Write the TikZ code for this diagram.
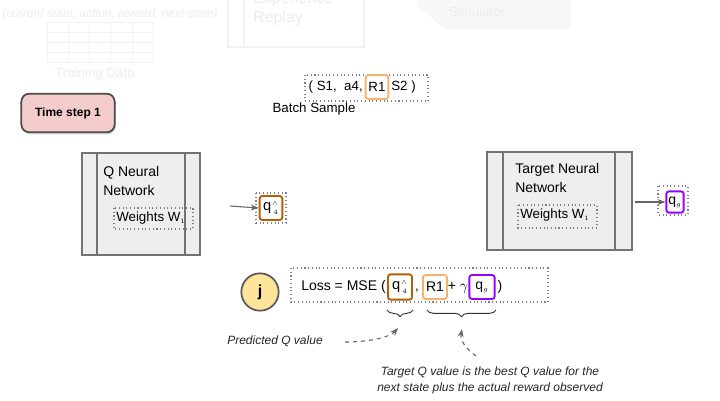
\documentclass[tikz,border=0pt]{standalone}
\usepackage{fontspec}
\setmainfont{Liberation Sans}
\usetikzlibrary{decorations.pathreplacing,shadows,arrows.meta}
\definecolor{faded}{HTML}{F2F2F2}
\definecolor{fadedtxt}{HTML}{ECECEC}
\definecolor{pinkf}{HTML}{F4CCCC}
\definecolor{boxf}{HTML}{EEEEEE}
\definecolor{brownc}{HTML}{B45F06}
\definecolor{orangec}{HTML}{F6B26B}
\definecolor{purplec}{HTML}{9900FF}
\definecolor{yellowf}{HTML}{FFE599}
\tikzset{
  nn/.style={draw=gray!90!black,fill=boxf,line width=0.8pt},
  dotbox/.style={draw=gray,dotted,line width=0.8pt},
  valbox/.style={rounded corners=2pt,line width=1.4pt},
  txt/.style={font=\fontsize{10}{12}\selectfont,inner sep=0pt},
  itl/.style={font=\fontsize{9}{11}\selectfont\itshape,inner sep=0pt,text=black!85},
  conn/.style={draw=gray!80!black,line width=0.8pt,-{Stealth[length=6pt]}},
  dconn/.style={draw=gray!80!black,dashed,line width=0.8pt,-{Stealth[length=6pt]}}
}
\newcommand{\qhat}{q\kern0.5pt$^{\scriptscriptstyle\wedge}_{\kern1pt\scriptscriptstyle 4}$}
\begin{document}
\begin{tikzpicture}[x=0.75pt,y=-0.75pt]
\useasboundingbox (0,0) rectangle (720,400);
% faded background
\node[itl,text=fadedtxt] (ctx) at (110,14) {(current state, action, reward, next state)};
\foreach \i in {0,...,5}{\draw[faded] (47+\i*21.2,22) -- (47+\i*21.2,62);}
\foreach \j in {0,...,4}{\draw[faded] (47,22+\j*10) -- (153,22+\j*10);}
\node[txt,text=fadedtxt] (td) at (95,74) {Training Data};
\draw[faded,line width=0.8pt] (228,-10) rectangle (364,47);
\draw[faded,line width=0.8pt] (244,-10) -- (244,47);
\node[txt,text=fadedtxt,align=left,anchor=north west,font=\fontsize{12}{14}\selectfont] (er) at (253,-8) {Experience\\Replay};
\draw[faded,fill=faded!50] (418,-10) -- (570,-10) -- (570,28) -- (445,28) -- (418,5) -- cycle;
\node[txt,text=fadedtxt] (sim) at (477,12) {Simulator};
% time step
\node[draw=gray!60!black,fill=pinkf,rounded corners=6pt,line width=1.3pt,
  minimum width=70pt,minimum height=29pt,align=center,font=\fontsize{9}{11}\selectfont\bfseries,
  drop shadow={opacity=0.3,shadow xshift=1pt,shadow yshift=-1.5pt}] (ts) at (68,113) {Time step 1};
% batch sample
\draw[dotbox] (305,75) rectangle (428,101);
\node[draw=orangec,valbox,minimum width=17pt,minimum height=18pt,inner sep=1pt,font=\fontsize{10}{12}\selectfont] (r1) at (377,87) {R1};
\node[txt,anchor=east] (bsa) at (363,87) {( S1,\ \ a4,};
\node[txt,anchor=west] (bsb) at (391,87) {S2 )};
\node[txt] (bsl) at (314,109) {Batch Sample};
% Q NN
\draw[nn] (82,153) rectangle (200,255);
\draw[gray!90!black,line width=0.8pt] (97,153) -- (97,255) (185,153) -- (185,255);
\node[txt,align=left,anchor=north west,font=\fontsize{10.5}{14}\selectfont] (qnn) at (103,166) {Q Neural\\Network};
\draw[dotbox] (114,208) rectangle (193,229);
\node[txt,anchor=west] (w1) at (116,218) {Weights W$_{\scriptscriptstyle 1}$};
\coordinate (qnnout) at (230,206);
\draw[dotbox] (256,193) rectangle (286,223);
\node[draw=brownc,valbox,minimum width=17pt,minimum height=18pt,inner sep=1pt,font=\fontsize{11}{12}\selectfont] (qh) at (271,208) {\qhat};
\draw[conn] (qnnout) -- (qh.west);
% Target NN
\draw[nn] (487,152) rectangle (632,250);
\draw[gray!90!black,line width=0.8pt] (503,152) -- (503,250) (615,152) -- (615,250);
\node[txt,align=left,anchor=north west,font=\fontsize{10.5}{14}\selectfont] (tnn) at (515,163) {Target Neural\\Network};
\draw[dotbox] (518,205) rectangle (597,228);
\node[txt,anchor=west] (w2) at (520,215) {Weights W$_{\scriptscriptstyle 1}$};
\coordinate (tnnout) at (635,202);
\draw[dotbox] (658,186) rectangle (688,215);
\node[draw=purplec,valbox,minimum width=13pt,minimum height=16pt,inner sep=1pt,font=\fontsize{10.5}{12}\selectfont] (qg) at (675,202) {q$_{\scriptscriptstyle g}$};
\draw[conn] (tnnout) -- (qg.west);
% j
\node[circle,draw=gray!70!black,fill=yellowf,line width=1.3pt,minimum size=28pt,font=\fontsize{12}{14}\selectfont\bfseries] (j) at (260,292) {j};
% loss
\draw[dotbox] (291,268) rectangle (548,302);
\node[txt,anchor=west,font=\fontsize{10.5}{12}\selectfont] (loss) at (301,287) {Loss = MSE (};
\node[draw=brownc,valbox,minimum width=18pt,minimum height=19pt,inner sep=1pt,font=\fontsize{11}{12}\selectfont] (lq) at (400,287) {\qhat};
\node[txt] (c1) at (417,291) {,};
\node[draw=orangec,valbox,minimum width=18pt,minimum height=18pt,inner sep=1pt,font=\fontsize{10.5}{12}\selectfont] (lr) at (435,287) {R1};
\node[txt,font=\fontsize{10.5}{12}\selectfont] (pg) at (458,288) {+ $\gamma$};
\node[draw=purplec,valbox,minimum width=19pt,minimum height=18pt,inner sep=1pt,font=\fontsize{10.5}{12}\selectfont] (lg) at (482,287) {q$_{\scriptscriptstyle g}$};
\node[txt,font=\fontsize{10.5}{12}\selectfont] (cp) at (500,287) {)};
% braces
\draw[decorate,decoration={brace,amplitude=5pt,mirror},line width=0.7pt,black!80] (387,310) -- (413,310);
\draw[decorate,decoration={brace,amplitude=5pt,mirror},line width=0.7pt,black!80] (427,310) -- (496,310);
\coordinate (b1t) at (398,328);
\coordinate (b2t) at (462,329);
% labels
\node[itl] (pq) at (275,341) {Predicted Q value};
\node[itl,align=center,font=\fontsize{9}{12}\selectfont\itshape] (tq) at (490,380) {Target Q value is the best Q value for the\\next state plus the actual reward observed};
\coordinate (pqs) at (345,342);
\draw[dconn] (pqs) .. controls (370,342) and (390,337) .. (b1t);
\coordinate (tqs) at (476,356);
\draw[dconn] (tqs) .. controls (465,348) and (460,340) .. (b2t);
\end{tikzpicture}
\end{document}
